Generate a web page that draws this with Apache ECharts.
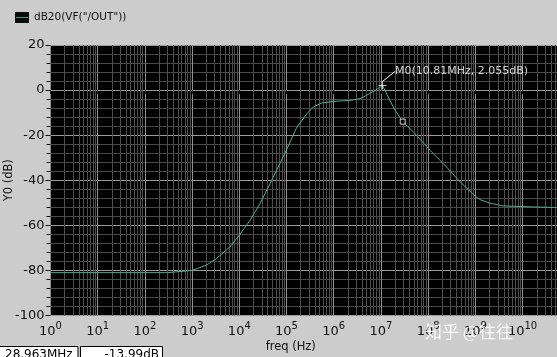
<!DOCTYPE html>
<html>
<head>
<meta charset="utf-8">
<script src="https://cdn.jsdelivr.net/npm/echarts@6/dist/echarts.min.js"></script>
<style>
html,body{margin:0;padding:0;background:#cccccc;}
#chart{width:557px;height:357px;}
</style>
</head>
<body>
<div id="chart"></div>
<script>
// ---- data ----
const freqHz = [1, 10, 100, 300, 310, 1000, 2000, 3300, 6300, 1.0e4, 1.7e4, 2.75e4, 4.5e4, 7.2e4,
  1.0e5, 1.66e5, 2.7e5, 3.7e5, 5.6e5, 1.0e6, 2.2e6, 3.6e6, 5.0e6, 7.6e6, 1.081e7,
  1.55e7, 2.0e7, 2.8963e7, 4.9e7, 1.1e8, 2.45e8, 4.8e8, 1.0e9, 1.26e9, 2.0e9, 3.9e9, 1.45e10, 5.2e10];
const gainDb = [-81, -81, -81, -81, -80.3, -80, -77.7, -74.7, -69.6, -64.4, -57.7, -50.3, -41.5, -32.6,
  -26.5, -16.4, -10.5, -7.5, -5.7, -5.0, -4.6, -3.8, -2.3, -0.1, 2.055,
  -4.6, -9.0, -13.99, -18.6, -26.7, -34.1, -40.8, -47.1, -48.6, -50.1, -51.4, -51.8, -52.1];
const markerM0 = [1.081e7, 2.055];
const markerM0Label = 'M0(10.81MHz, 2.055dB)';
const cursorPoint = [2.8963e7, -13.99];
const cursorFreqText = '28.963MHz';
const cursorDbText = '-13.99dB';
const seriesName = 'dB20(VF("/OUT"))';
const yTicks = [-100, -80, -60, -40, -20, 0, 20];
const xAxisTitle = 'freq (Hz)';
const yAxisTitle = 'Y0 (dB)';
const watermark = '知乎 @往往';

// ---- build ----
const curve = freqHz.map((f, i) => [f, gainDb[i]]);
const xMin = 1, xMax = Math.pow(10, 10.73);
const minorLines = [];
for (let e = 0; e <= 10; e++) {
  for (let k = 2; k <= 9; k++) {
    const v = k * Math.pow(10, e);
    if (v < xMax) minorLines.push({ xAxis: v });
  }
}
const FONT = 'DejaVu Sans';
const chart = echarts.init(document.getElementById('chart'), null, { renderer: 'canvas' });
chart.setOption({
  backgroundColor: '#cccccc',
  animation: false,
  textStyle: { fontFamily: FONT },
  legend: {
    left: 15, top: 12, padding: 0, itemWidth: 14, itemHeight: 11, icon: 'rect',
    itemStyle: { color: '#0b0b0b' },
    textStyle: { fontFamily: FONT, fontSize: 10.5, color: '#111' },
    data: [seriesName]
  },
  grid: { left: 50.5, top: 45, right: 0, bottom: 41.5, containLabel: false, outerBoundsMode: 'none',
    show: true, backgroundColor: '#000', borderWidth: 0 },
  xAxis: {
    type: 'log', logBase: 10, min: xMin, max: xMax, interval: 1,
    name: xAxisTitle, nameLocation: 'middle', nameGap: 26, nameMoveOverlap: false,
    nameTextStyle: { fontFamily: FONT, fontSize: 11.5, color: '#111', padding: [0, 26, 0, 0] },
    axisLine: { show: false },
    axisTick: { show: true, length: 4, lineStyle: { color: '#111' } },
    splitLine: { show: true, lineStyle: { color: '#8e8e8e', width: 1 } },
    axisLabel: {
      margin: 6, color: '#111', hideOverlap: false,
      formatter: function (v) {
        const e = Math.log10(v);
        if (Math.abs(e - Math.round(e)) > 1e-6) return '';
        return '{b|10}{s|' + Math.round(e) + '}';
      },
      rich: {
        b: { fontFamily: FONT, fontSize: 13, lineHeight: 17, verticalAlign: 'bottom', color: '#111' },
        s: { fontFamily: FONT, fontSize: 10, lineHeight: 10, verticalAlign: 'top', color: '#111' }
      }
    }
  },
  yAxis: {
    type: 'value', min: yTicks[0], max: yTicks[yTicks.length - 1], interval: 20,
    name: yAxisTitle, nameLocation: 'middle', nameGap: 35, nameRotate: 90, nameMoveOverlap: false,
    nameTextStyle: { fontFamily: FONT, fontSize: 11.5, color: '#111' },
    axisLine: { show: false },
    axisTick: { show: true, length: 5, lineStyle: { color: '#111' } },
    minorTick: { show: true, splitNumber: 5, length: 4, lineStyle: { color: '#111' } },
    splitLine: { show: true, lineStyle: { color: '#9a9a9a', width: 1 } },
    minorSplitLine: { show: true, lineStyle: { color: '#4a4a4a', width: 1 } },
    axisLabel: { margin: 6, fontFamily: FONT, fontSize: 13, color: '#111' }
  },
  series: [
    {
      name: seriesName, type: 'line', data: curve, symbol: 'none',
      lineStyle: { color: '#4fae8a', width: 1 }, itemStyle: { color: '#4fae8a' }, z: 5,
      markLine: {
        silent: true, symbol: 'none', label: { show: false }, animation: false,
        lineStyle: { color: '#4e4e4e', width: 1, type: 'solid' },
        data: minorLines, z: 1
      }
    },
    {
      type: 'scatter', data: [markerM0], z: 10,
      symbol: 'path://M0,4L8,4M4,0L4,8', symbolSize: 8,
      itemStyle: { color: 'none', borderColor: '#fff', borderWidth: 1 },
      label: { show: true, position: 'right', formatter: markerM0Label, color: '#fff', fontFamily: FONT, fontSize: 11 },
      labelLayout: { dx: 1, dy: -14 },
      labelLine: { show: true, lineStyle: { color: '#fff', width: 1 } }
    },
    {
      type: 'scatter', data: [cursorPoint], z: 10,
      symbol: 'rect', symbolSize: 5,
      itemStyle: { color: '#000', borderColor: '#fff', borderWidth: 1 }
    }
  ],
  graphic: [
    { type: 'line', shape: { x1: 16, y1: 17.5, x2: 28, y2: 17.5 }, style: { stroke: '#3f9a78', lineWidth: 1 }, z: 100 },
    { type: 'rect', shape: { x: -1, y: 346.5, width: 79, height: 14 }, style: { fill: '#fff', stroke: '#000', lineWidth: 1 }, z: 100 },
    { type: 'text', x: 5, y: 348.5, style: { text: cursorFreqText, fill: '#000', font: '12px "DejaVu Sans"', textVerticalAlign: 'top' }, z: 101 },
    { type: 'rect', shape: { x: 80.5, y: 346.5, width: 82, height: 14 }, style: { fill: '#fff', stroke: '#000', lineWidth: 1 }, z: 100 },
    { type: 'text', x: 159, y: 348.5, style: { text: cursorDbText, fill: '#000', font: '12px "DejaVu Sans"', textAlign: 'right', textVerticalAlign: 'top' }, z: 101 },
    { type: 'text', x: 425, y: 332, style: { text: watermark, fill: 'rgba(255,255,255,0.88)', font: '17px "Noto Sans CJK SC"', textVerticalAlign: 'middle', shadowColor: 'rgba(0,0,0,0.35)', shadowBlur: 2, shadowOffsetX: 1, shadowOffsetY: 1 }, z: 102 }
  ]
});
</script>
</body>
</html>
